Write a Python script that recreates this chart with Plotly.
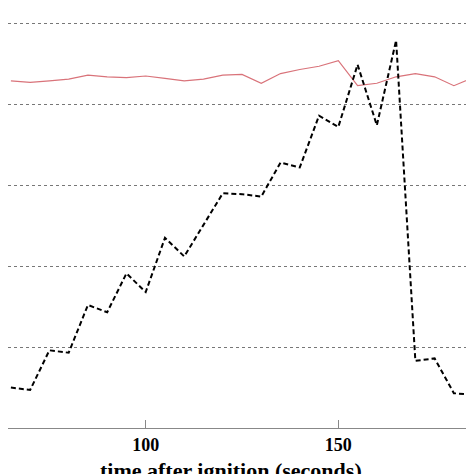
import plotly.graph_objects as go

# time after ignition (s)
t = [65, 70, 75, 80, 85, 90, 95, 100, 105, 110, 115, 120, 125, 130, 135,
     140, 145, 150, 155, 160, 165, 170, 175, 180, 185, 190]

# dashed black series (grid units)
black = [0.50, 0.47, 0.96, 0.93, 1.52, 1.43, 1.91, 1.68, 2.35, 2.12, 2.51, 2.90,
         2.89, 2.86, 3.28, 3.22, 3.86, 3.72, 4.49, 3.74, 4.79, 0.83, 0.86, 0.43,
         0.41, 0.41]

# thin red series (grid units)
red = [4.29, 4.27, 4.29, 4.31, 4.36, 4.34, 4.33, 4.35, 4.32, 4.29, 4.31, 4.36,
       4.37, 4.26, 4.38, 4.43, 4.47, 4.54, 4.23, 4.26, 4.34, 4.38, 4.34, 4.23,
       4.33, 4.33]

fig = go.Figure()
fig.add_trace(go.Scatter(x=t, y=red, mode="lines",
                         line=dict(color="#d9737a", width=1.2)))
fig.add_trace(go.Scatter(x=t, y=black, mode="lines",
                         line=dict(color="black", width=2, dash="5px,3px")))

fig.update_layout(
    width=474, height=474,
    margin=dict(l=0, r=0, t=0, b=54),
    plot_bgcolor="white", paper_bgcolor="white",
    showlegend=False,
    font=dict(family="Liberation Serif", color="black"),
    xaxis=dict(range=[64.25, 187.3], tickvals=[100, 150], ticks="inside",
               ticklen=8, tickcolor="#888", showgrid=False, zeroline=False,
               showline=True, linecolor="#888", automargin=False,
               tickfont=dict(size=18, family="Liberation Serif", weight="bold")),
    yaxis=dict(range=[0, 5.19], tickvals=[1, 2, 3, 4, 5], showticklabels=False,
               showgrid=True, gridcolor="#777", griddash="dot", gridwidth=1,
               zeroline=False, automargin=False),
    annotations=[dict(text="<b>time after ignition (seconds)</b>",
                      xref="paper", yref="paper", x=0.47, y=0, yshift=-42,
                      xanchor="center", yanchor="middle", showarrow=False,
                      font=dict(size=22, family="Liberation Serif"))],
)

fig.write_html("out.html")
